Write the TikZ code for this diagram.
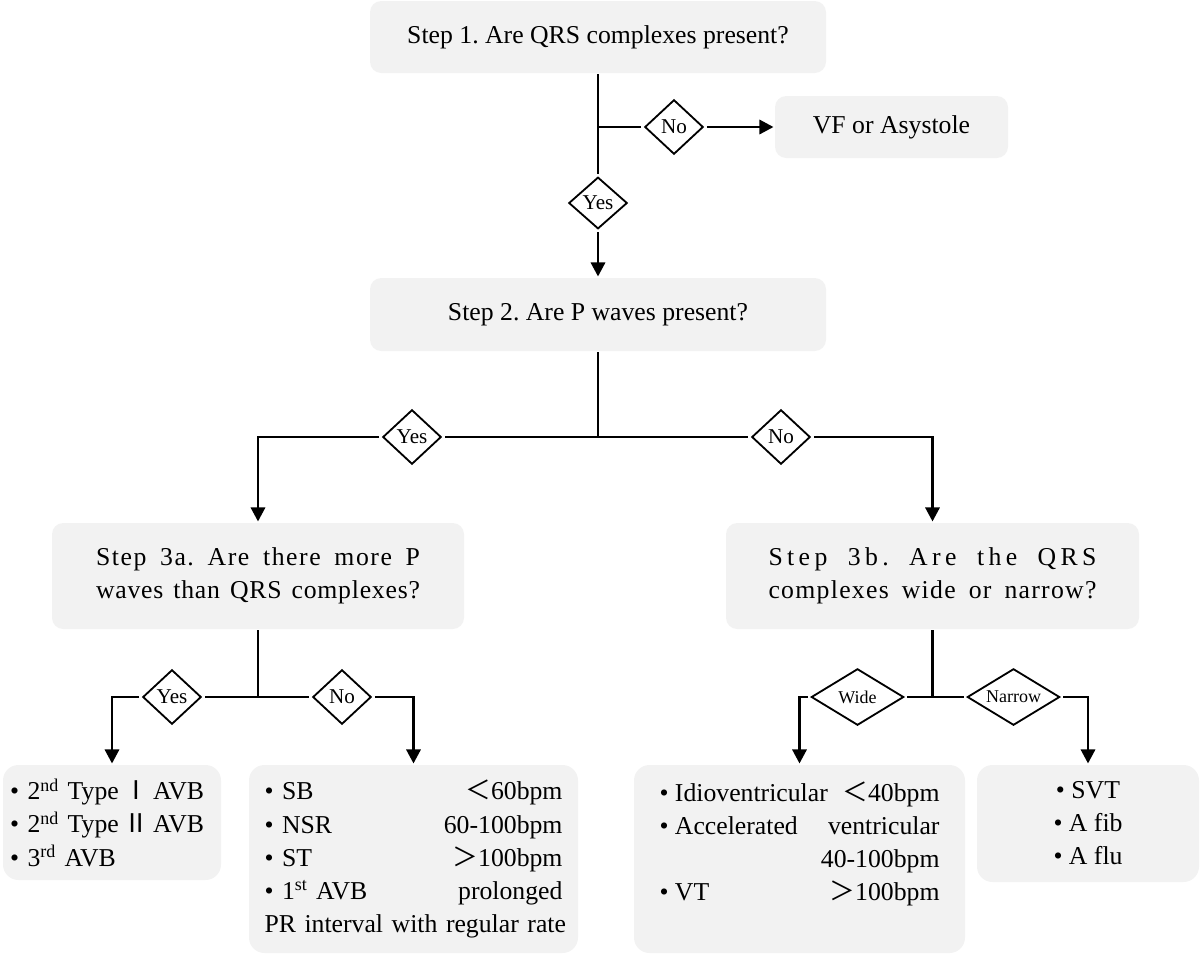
\documentclass[tikz,border=0pt]{standalone}
\usepackage{fontspec}
\setmainfont{Liberation Serif}
\newfontfamily\cjk{Noto Sans CJK SC}
\usetikzlibrary{shapes.geometric,arrows.meta}
\definecolor{boxgray}{RGB}{242,242,242}
\frenchspacing

\begin{document}
\begin{tikzpicture}[>={Triangle[length=10pt,width=10pt]}, line width=2.1pt,
  stepbox/.style={fill=boxgray, rounded corners=8pt, align=center, inner sep=0pt,
    font=\fontsize{18.3}{23.5}\selectfont},
  listbox/.style={stepbox, rounded corners=11pt},
  choice/.style={draw, diamond, fill=white, line width=1.3pt, inner sep=0pt, outer sep=2pt,
    minimum width=1.5cm, minimum height=1.4cm, font=\fontsize{15}{17}\selectfont},
  widechoice/.style={choice, shape aspect=1.6, minimum width=2.35cm, minimum height=1.45cm,
    font=\fontsize{12.8}{15}\selectfont}]
  \useasboundingbox (0,0) rectangle (30,-23.95);

  % step 1
  \node[stepbox, minimum width=11.4cm, minimum height=1.8cm] (s1) at (14.95,-0.925)
    {Step 1. Are QRS complexes present?};
  \coordinate (j1) at (14.95,-3.175);
  \node[choice] (no1) at (16.85,-3.175) {No};
  \node[stepbox, minimum width=5.825cm, minimum height=1.55cm] (vf) at (22.2875,-3.175)
    {VF or Asystole};
  \node[choice, minimum height=1.33cm] (yes1) at (14.95,-5.075) {Yes};

  \draw (s1.south) -- (yes1.north);
  \draw (j1) -- (no1.west);
  \draw[->] (no1.east) -- (vf.west);

  % step 2
  \node[stepbox, minimum width=11.4cm, minimum height=1.825cm] (s2) at (14.95,-7.8625)
    {Step 2. Are P waves present?};
  \draw[->] (yes1.south) -- (s2.north);

  \coordinate (j2) at (14.95,-10.925);
  \node[choice] (yes2) at (10.3,-10.925) {Yes};
  \node[choice] (no2) at (19.525,-10.925) {No};

  % step 3a / 3b
  \node[stepbox, minimum width=10.3cm, minimum height=2.65cm] (s3a) at (6.45,-14.4)
    {\makebox[8.1cm][s]{\addfontfeature{LetterSpace=6}Step 3a. Are there more P}\\
     \makebox[8.1cm][s]{\addfontfeature{LetterSpace=3}waves than QRS complexes?}};
  \node[stepbox, minimum width=10.325cm, minimum height=2.65cm] (s3b) at (23.3125,-14.4)
    {\makebox[8.2cm][s]{\addfontfeature{LetterSpace=17}Step 3b. Are the QRS}\\
     \makebox[8.2cm][s]{\addfontfeature{LetterSpace=5}complexes wide or narrow?}};

  \draw (s2.south) -- (j2);
  \draw (j2) -- (yes2.east);
  \draw (j2) -- (no2.west);
  \draw[->] (yes2.west) -| (s3a.north);
  \draw[->] (no2.east) -| (s3b.north);

  \coordinate (j3) at (6.45,-17.425);
  \node[choice] (yes3) at (4.3,-17.425) {Yes};
  \node[choice] (no3) at (8.55,-17.425) {No};
  \coordinate (j4) at (23.3125,-17.425);
  \node[widechoice] (wide) at (21.4375,-17.425) {Wide};
  \node[widechoice] (narrow) at (25.3375,-17.425) {Narrow};

  % results
  \node[listbox, minimum width=5.45cm, minimum height=2.875cm, text width=5.1cm, align=left]
    (avb) at (2.8,-20.5625)
    {\textbullet\ 2\textsuperscript{nd} Type\,{\cjk Ⅰ}\,AVB\\
     \textbullet\ 2\textsuperscript{nd} Type\,{\cjk Ⅱ}\,AVB\\
     \textbullet\ 3\textsuperscript{rd} AVB};
  \node[listbox, minimum width=8.225cm, minimum height=4.7cm, text width=7.45cm, align=left]
    (sinus) at (10.3375,-21.475)
    {\textbullet\ SB\hfill{\cjk ＜}60bpm\\
     \textbullet\ NSR\hfill 60-100bpm\\
     \textbullet\ ST\hfill{\cjk ＞}100bpm\\
     \textbullet\ 1\textsuperscript{st} AVB\hfill prolonged\\
     \makebox[\linewidth][s]{PR interval with regular rate}};
  \node[listbox, minimum width=8.275cm, minimum height=4.7cm] (vent) at (19.9875,-21.475)
    {\parbox[c][4.7cm][c]{7cm}{%
     \textbullet\ Idioventricular\hfill{\cjk ＜}40bpm\\
     \textbullet\ Accelerated\hfill ventricular\\
     \mbox{}\hfill 40-100bpm\\
     \textbullet\ VT\hfill{\cjk ＞}100bpm\par\vspace{0.75cm}}};
  \node[listbox, minimum width=5.55cm, minimum height=2.925cm] (supra) at (27.2,-20.5875)
    {\textbullet\ SVT\\ \textbullet\ A fib\\ \textbullet\ A flu};

  \draw (s3a.south) -- (j3);
  \draw (j3) -- (yes3.east);
  \draw (j3) -- (no3.west);
  \draw[->] (yes3.west) -| (avb.north);
  \draw[->] (no3.east) -| (sinus.north);

  \draw (s3b.south) -- (j4);
  \draw (j4) -- (wide.east);
  \draw (j4) -- (narrow.west);
  \draw[->] (wide.west) -| (vent.north);
  \draw[->] (narrow.east) -| (supra.north);
\end{tikzpicture}
\end{document}
